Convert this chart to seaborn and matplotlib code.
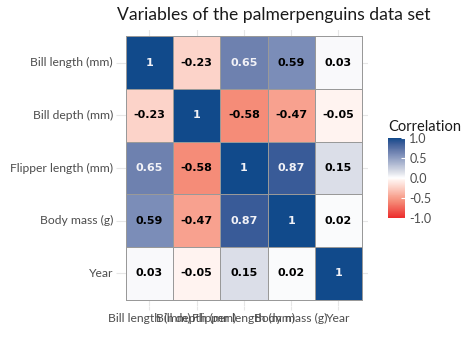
import numpy as np
import pandas as pd
import matplotlib
matplotlib.use("Agg")
import matplotlib.pyplot as plt
from matplotlib.colors import LinearSegmentedColormap
import seaborn as sns

variables = ["Bill length (mm)", "Bill depth (mm)", "Flipper length (mm)",
             "Body mass (g)", "Year"]
corr_values = [
    [1.00, -0.23, 0.65, 0.59, 0.03],
    [-0.23, 1.00, -0.58, -0.47, -0.05],
    [0.65, -0.58, 1.00, 0.87, 0.15],
    [0.59, -0.47, 0.87, 1.00, 0.02],
    [0.03, -0.05, 0.15, 0.02, 1.00],
]
cbar_ticks = [-1.0, -0.5, 0.0, 0.5, 1.0]

corr = pd.DataFrame(corr_values, index=variables, columns=variables)
labels = corr.map(lambda v: "1" if v == 1 else f"{v:.2f}")

# diverging red-white-blue scale with soft midtones
cmap = LinearSegmentedColormap.from_list(
    "corr_rdbu",
    [(0.00, "#ec2b2b"), (0.21, "#f58d79"), (0.265, "#f8a290"),
     (0.385, "#fcd3c9"), (0.475, "#fff3f0"), (0.50, "#ffffff"),
     (0.575, "#dcdfe8"), (0.795, "#7b8db8"), (0.825, "#6f82b0"),
     (0.935, "#3a5c98"), (1.00, "#114a8b")])

plt.rcParams["font.family"] = ["Lato", "DejaVu Sans"]
fig = plt.figure(figsize=(4.74, 3.38), dpi=100)
ax = fig.add_axes([0.253, 0.095, 0.523, 0.816])
cax = fig.add_axes([0.819, 0.355, 0.036, 0.237])

sns.heatmap(corr, ax=ax, cmap=cmap, vmin=-1, vmax=1, annot=labels, fmt="",
            linewidths=0.5, linecolor="#999999", cbar=True, cbar_ax=cax,
            cbar_kws={"ticks": cbar_ticks},
            annot_kws={"family": "DejaVu Sans", "weight": "bold", "size": 8})

for t, v in zip(ax.texts, np.array(corr_values).ravel()):
    t.set_color("#f2f2f7" if v > 0.62 else "black")

ax.set_xlim(-0.12, 5.12)
ax.set_ylim(5.12, -0.12)
ax.set_axisbelow(True)
ax.grid(True, color="#e6e6e6", linewidth=0.8)
for s in ax.spines.values():
    s.set_visible(False)
ax.set_xlabel("")
ax.set_ylabel("")
ax.tick_params(axis="both", length=3, color="#e6e6e6", labelsize=8.7,
               labelcolor="#4d4d4d", pad=2)
ax.set_xticklabels(variables, rotation=0)
ax.set_yticklabels(variables, rotation=0)

cax.tick_params(length=3, color="white", labelsize=9, labelcolor="#4d4d4d",
                direction="in", pad=3)
cax.set_yticklabels([f"{t:.1f}" for t in cbar_ticks])
for s in cax.spines.values():
    s.set_visible(False)
cax.set_title("Correlation", fontsize=10.5, loc="left", pad=5, color="#1a1a1a")

fig.text(0.578, 0.955, "Variables of the palmerpenguins data set",
         ha="center", va="center", fontsize=12.6, color="#1a1a1a")

fig.savefig("out.png", dpi=100, facecolor="white")
